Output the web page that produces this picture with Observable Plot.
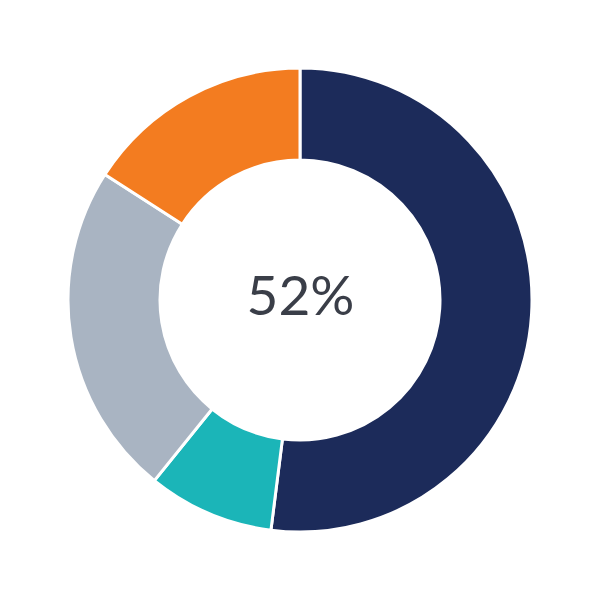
<!DOCTYPE html>
<html>
<head>
<meta charset="utf-8">
<script src="https://cdn.jsdelivr.net/npm/d3@7"></script>
<script src="https://cdn.jsdelivr.net/npm/@observablehq/plot@0.6"></script>
<style>
  html, body { margin: 0; padding: 0; background: #fff; }
  #chart { width: 600px; height: 600px; }
</style>
</head>
<body>
<div id="chart"></div>
<script>
const categories = ["Segment A", "Segment B", "Segment C", "Segment D"];
const values = [52, 8.8, 23.3, 15.9];
const colors = ["#1c2b5a", "#1bb5b8", "#a9b4c2", "#f37c20"];
const centerLabel = ["52%"];

const data = categories.map((c, i) => ({category: c, value: values[i]}));
const color = Plot.scale({color: {type: "ordinal", domain: categories, range: colors}});

function donut(index, scales, channels, dimensions) {
  const cx = scales.x(0), cy = scales.y(0);
  const outer = Math.abs(scales.x(1) - scales.x(0));
  const inner = outer * (140 / 232);
  const pie = d3.pie().sort(null).value(d => d.value)(data);
  const arc = d3.arc().innerRadius(inner).outerRadius(outer);
  const g = d3.create("svg:g").attr("transform", `translate(${cx},${cy})`);
  g.selectAll("path")
    .data(pie)
    .join("path")
    .attr("d", arc)
    .attr("fill", d => color.apply(d.data.category))
    .attr("stroke", "#fff")
    .attr("stroke-width", 3)
    .attr("stroke-linejoin", "round");
  return g.node();
}

const chart = Plot.plot({
  width: 600,
  height: 600,
  margin: 0,
  x: {domain: [-600 / 464, 600 / 464], axis: null},
  y: {domain: [600 / 464, -600 / 464], axis: null},
  marks: [
    donut,
    Plot.text(centerLabel, {
      x: 0, y: 0, text: d => d,
      fontSize: 55, fill: "#3a3e48",
      fontFamily: "Lato", fontWeight: 400,
      textAnchor: "middle", lineAnchor: "middle", dy: -3
    })
  ]
});
document.getElementById("chart").appendChild(chart);
</script>
</body>
</html>
